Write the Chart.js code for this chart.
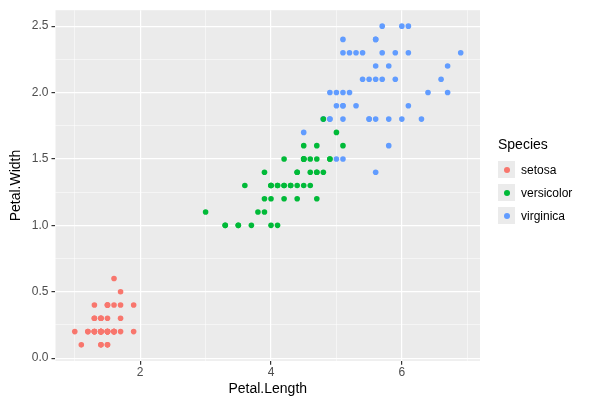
<!DOCTYPE html>
<html><head><meta charset="utf-8">
<script src="https://cdn.jsdelivr.net/npm/chart.js@4"></script>
<style>
body{margin:0;background:#fff;font-family:"Liberation Sans",Arial,sans-serif}
#wrap{position:relative;width:600px;height:400px}
#legend{position:absolute;left:498px;top:136px;font-size:12px;color:#000}
.ttl{font-size:14px;margin-bottom:6px}
.row{display:flex;align-items:center;height:23px}
.key{width:17px;height:17px;background:#ebebeb;display:flex;align-items:center;justify-content:center;margin-right:6px}
.dot{width:6px;height:6px;border-radius:50%}
</style></head><body>
<div id="wrap"><canvas id="c" width="600" height="400"></canvas>
<div id="legend"><div class="ttl">Species</div></div></div>
<script>
const species=["setosa","versicolor","virginica"];
const colors=["#F8766D","#00BA38","#619CFF"];
const petalLength=[
[1.4,1.4,1.3,1.5,1.4,1.7,1.4,1.5,1.4,1.5,1.5,1.6,1.4,1.1,1.2,1.5,1.3,1.4,1.7,1.5,1.7,1.5,1.0,1.7,1.9,1.6,1.6,1.5,1.4,1.6,1.6,1.5,1.5,1.4,1.5,1.2,1.3,1.4,1.3,1.5,1.3,1.3,1.3,1.6,1.9,1.4,1.6,1.4,1.5,1.4],
[4.7,4.5,4.9,4.0,4.6,4.5,4.7,3.3,4.6,3.9,3.5,4.2,4.0,4.7,3.6,4.4,4.5,4.1,4.5,3.9,4.8,4.0,4.9,4.7,4.3,4.4,4.8,5.0,4.5,3.5,3.8,3.7,3.9,5.1,4.5,4.5,4.7,4.4,4.1,4.0,4.4,4.6,4.0,3.3,4.2,4.2,4.2,4.3,3.0,4.1],
[6.0,5.1,5.9,5.6,5.8,6.6,4.5,6.3,5.8,6.1,5.1,5.3,5.5,5.0,5.1,5.3,5.5,6.7,6.9,5.0,5.7,4.9,6.7,4.9,5.7,6.0,4.8,4.9,5.6,5.8,6.1,6.4,5.6,5.1,5.6,6.1,5.6,5.5,4.8,5.4,5.6,5.1,5.1,5.9,5.7,5.2,5.0,5.2,5.4,5.1]];
const petalWidth=[
[0.2,0.2,0.2,0.2,0.2,0.4,0.3,0.2,0.2,0.1,0.2,0.2,0.1,0.1,0.2,0.4,0.4,0.3,0.3,0.3,0.2,0.4,0.2,0.5,0.2,0.2,0.4,0.2,0.2,0.2,0.2,0.4,0.1,0.2,0.2,0.2,0.2,0.1,0.2,0.2,0.3,0.3,0.2,0.6,0.4,0.3,0.2,0.2,0.2,0.2],
[1.4,1.5,1.5,1.3,1.5,1.3,1.6,1.0,1.3,1.4,1.0,1.5,1.0,1.4,1.3,1.4,1.5,1.0,1.5,1.1,1.8,1.3,1.5,1.2,1.3,1.4,1.4,1.7,1.5,1.0,1.1,1.0,1.2,1.6,1.5,1.6,1.5,1.3,1.3,1.3,1.2,1.4,1.2,1.0,1.3,1.2,1.3,1.3,1.1,1.3],
[2.5,1.9,2.1,1.8,2.2,2.1,1.7,1.8,1.8,2.5,2.0,1.9,2.1,2.0,2.4,2.3,1.8,2.2,2.3,1.5,2.3,2.0,2.0,1.8,2.1,1.8,1.8,1.8,2.1,1.6,1.9,2.0,2.2,1.5,1.4,2.3,2.4,1.8,1.8,2.1,2.4,2.3,1.9,2.3,2.5,2.3,1.9,2.0,2.3,1.8]];
const xTicks=[2,4,6];
const yTicks=[0,0.5,1,1.5,2,2.5];

const lg=document.getElementById('legend');
species.forEach((s,i)=>{const r=document.createElement('div');r.className='row';
r.innerHTML='<div class="key"><div class="dot" style="background:'+colors[i]+'"></div></div>'+s;lg.appendChild(r);});

const bg={id:'bg',beforeDraw(ch){const a=ch.chartArea,c=ch.ctx;c.save();c.fillStyle='#ebebeb';c.fillRect(a.left,a.top,a.width,a.height);c.restore();}};
const near=(v,arr)=>arr.some(t=>Math.abs(t-v)<1e-6);
new Chart(document.getElementById('c'),{type:'scatter',
data:{datasets:species.map((s,i)=>({label:s,data:petalLength[i].map((x,j)=>({x:x,y:petalWidth[i][j]})),backgroundColor:colors[i],borderWidth:0,pointRadius:2.8,pointHoverRadius:2.8}))},
options:{responsive:false,animation:false,layout:{padding:{left:4,right:120,top:8,bottom:0}},
plugins:{legend:{display:false},tooltip:{enabled:false}},
scales:{
x:{min:0.705,max:7.195,afterBuildTicks(ax){ax.ticks=[1,2,3,4,5,6,7].map(v=>({value:v}));},
 ticks:{color:'#4d4d4d',font:{size:12,family:'Liberation Sans'},maxRotation:0,padding:1,callback:v=>near(v,xTicks)?String(v):''},
 grid:{color:'#fff',lineWidth:c=>c.tick&&near(c.tick.value,xTicks)?1.2:0.5,drawTicks:true,tickLength:4,tickColor:c=>c.tick&&near(c.tick.value,xTicks)?'#333':'rgba(0,0,0,0)'},border:{display:false},
 title:{display:true,text:'Petal.Length',font:{size:14,family:'Liberation Sans'},color:'#000',padding:{top:0,bottom:2}}},
y:{min:-0.02,max:2.62,afterBuildTicks(ax){ax.ticks=[0,0.25,0.5,0.75,1,1.25,1.5,1.75,2,2.25,2.5].map(v=>({value:v}));},
 ticks:{color:'#4d4d4d',font:{size:12,family:'Liberation Sans'},callback:v=>near(v,yTicks)?v.toFixed(1):''},
 grid:{color:'#fff',lineWidth:c=>c.tick&&near(c.tick.value,yTicks)?1.2:0.5,tickLength:4,tickColor:c=>c.tick&&near(c.tick.value,yTicks)?'#333':'rgba(0,0,0,0)'},border:{display:false},
 title:{display:true,text:'Petal.Width',font:{size:14,family:'Liberation Sans'},color:'#000'}}}},
plugins:[bg]});
</script></body></html>
